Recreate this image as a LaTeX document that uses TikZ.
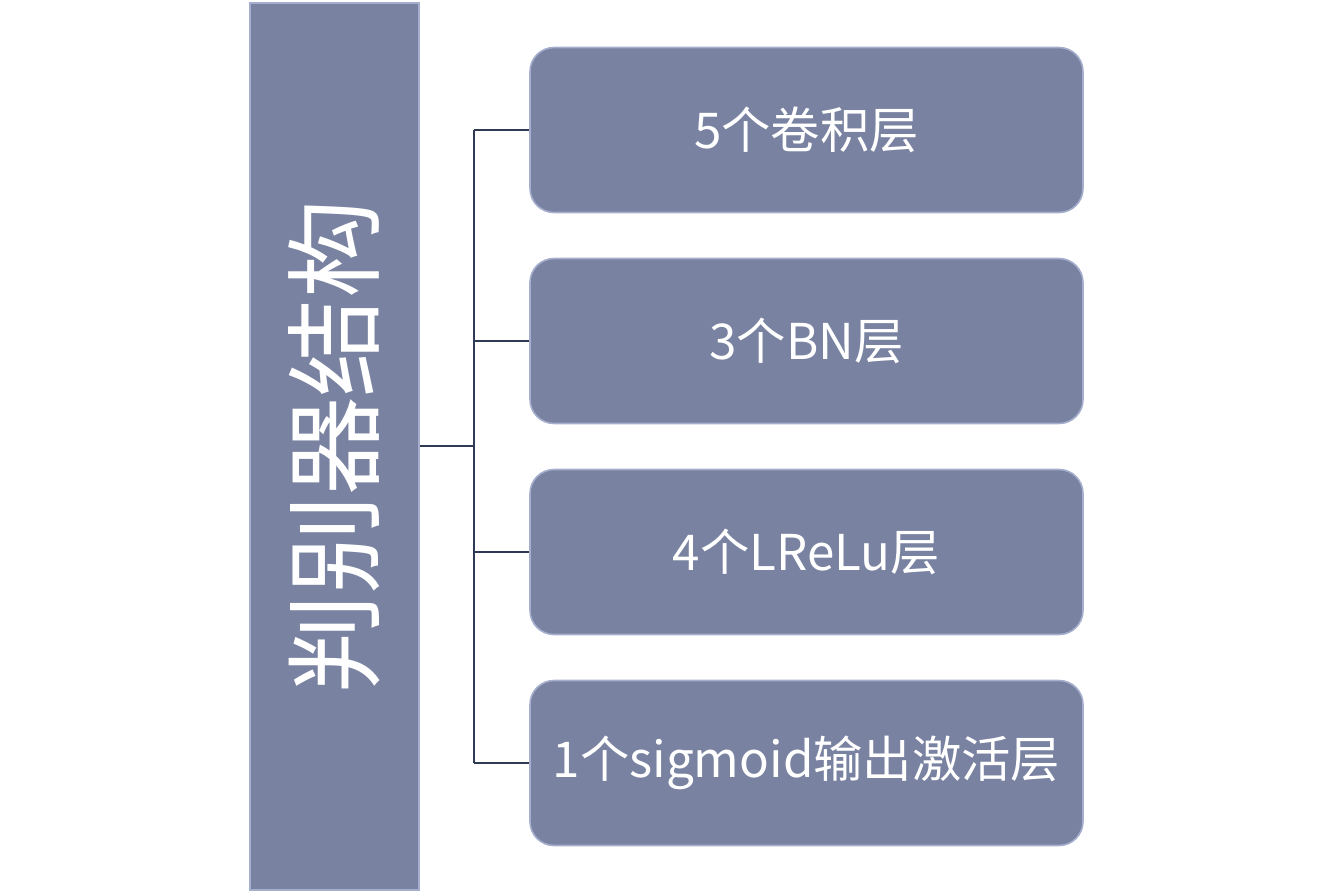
\documentclass[tikz,border=0pt]{standalone}
\usepackage{fontspec}
\setmainfont{Noto Sans CJK SC}
\usepackage{tikz}
\usetikzlibrary{positioning}
\definecolor{boxfill}{RGB}{121,130,160}
\definecolor{boxedge}{RGB}{165,175,205}
\definecolor{linkcol}{RGB}{47,58,85}

\begin{document}
\begin{tikzpicture}[x=0.75pt, y=-0.75pt,
    layer/.style={draw=boxedge, line width=1.2pt, fill=boxfill, rounded corners=18pt,
        minimum width=553*0.75pt, minimum height=165*0.75pt, text=white,
        font=\fontsize{37}{40}\selectfont, inner sep=0pt},
    link/.style={draw=linkcol, line width=1.1pt}]
        \useasboundingbox (0,0) rectangle (1334,893);

        % Title column
        \node[draw=boxedge, line width=1.5pt, fill=boxfill, minimum width=169*0.75pt,
            minimum height=887*0.75pt, inner sep=0pt] (title) at (334.5,446.5) {};
        \node[rotate=90, text=white, font=\fontsize{74}{80}\selectfont] at (title.center) {判别器结构};

        % Layers
        \node[layer] (conv) at (806.5,130) {5个卷积层};
        \node[layer] (bn) at (806.5,341) {3个BN层};
        \node[layer] (lrelu) at (806.5,552) {4个LReLu层};
        \node[layer] (sig) at (806.5,763) {1个sigmoid输出激活层};

        % Bracket
        \coordinate (joint) at (474,446);
        \draw[link] (title.east |- joint) -- (joint);
        \draw[link] (joint |- conv.west) -- (joint |- sig.west);
        \foreach \n in {conv, bn, lrelu, sig}
            \draw[link] (joint |- \n.west) -- (\n.west);

\end{tikzpicture}
\end{document}
